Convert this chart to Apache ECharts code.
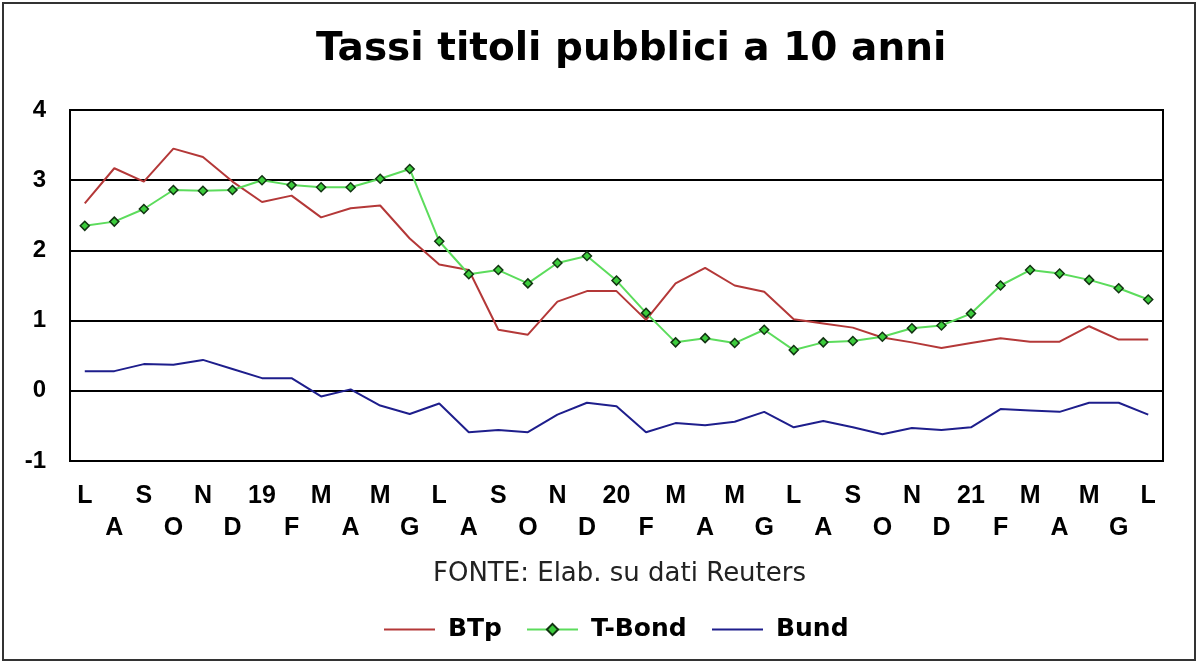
<!DOCTYPE html>
<html>
<head>
<meta charset="utf-8">
<title>Tassi titoli pubblici a 10 anni</title>
<script src="https://cdn.jsdelivr.net/npm/echarts@6/dist/echarts.min.js"></script>
<style>
  html, body { margin: 0; padding: 0; background: #fff; }
  #tassi10 { width: 1200px; height: 665px; }
</style>
</head>
<body>
<div id="tassi10"></div>
<script>
// mesi da luglio 2018 a luglio 2021
var mesi = ['L','A','S','O','N','D','19','F','M','A','M','G',
            'L','A','S','O','N','D','20','F','M','A','M','G',
            'L','A','S','O','N','D','21','F','M','A','M','G','L'];

var btp = [2.67, 3.17, 2.98, 3.45, 3.33, 2.98, 2.69, 2.78, 2.47, 2.60, 2.64, 2.17,
           1.80, 1.72, 0.87, 0.80, 1.27, 1.42, 1.42, 1.01, 1.53, 1.75, 1.50, 1.41,
           1.02, 0.96, 0.90, 0.76, 0.69, 0.61, 0.68, 0.75, 0.70, 0.70, 0.92, 0.73, 0.73];

var tbond = [2.35, 2.41, 2.59, 2.86, 2.85, 2.86, 3.00, 2.93, 2.90, 2.90, 3.02, 3.16,
             2.13, 1.66, 1.72, 1.53, 1.82, 1.92, 1.57, 1.11, 0.69, 0.75, 0.68, 0.87,
             0.58, 0.69, 0.71, 0.77, 0.89, 0.93, 1.10, 1.50, 1.72, 1.67, 1.58, 1.46, 1.30];

var bund = [0.28, 0.28, 0.38, 0.37, 0.44, 0.31, 0.18, 0.18, -0.08, 0.02, -0.21, -0.33,
            -0.18, -0.59, -0.56, -0.59, -0.34, -0.17, -0.22, -0.59, -0.46, -0.49, -0.44, -0.30,
            -0.52, -0.43, -0.52, -0.62, -0.53, -0.56, -0.52, -0.26, -0.28, -0.30, -0.17, -0.17, -0.34];

var yTicks = [-1, 0, 1, 2, 3, 4];

var font = '"Liberation Sans", Arial, sans-serif';
var fontLargo = '"DejaVu Sans", Verdana, sans-serif';

var chart = echarts.init(document.getElementById('tassi10'));

// una legenda per voce, per poterle posizionare come nell'originale
var legenda = function (item, left, h) {
    return {
        data: [item],
        left: left,
        top: 612,
        itemWidth: 51,
        itemHeight: h,
        selectedMode: false,
        textStyle: {
            fontFamily: fontLargo,
            fontWeight: 'bold',
            fontSize: 25,
            color: '#000',
            padding: [0, 0, 0, 8]
        }
    };
};

chart.setOption({
    animation: false,
    backgroundColor: '#fff',
    title: [
        {
            text: 'Tassi titoli pubblici a 10 anni',
            left: 311,
            top: 25,
            textStyle: { fontFamily: fontLargo, fontWeight: 'bold', fontSize: 39, color: '#000' }
        },
        {
            text: 'FONTE: Elab. su dati Reuters',
            left: 428,
            top: 556,
            textStyle: { fontFamily: fontLargo, fontWeight: 'normal', fontSize: 26, color: '#222' }
        }
    ],
    graphic: [{
        type: 'rect',
        shape: { x: 3, y: 3, width: 1192, height: 657 },
        style: { fill: 'none', stroke: '#333', lineWidth: 2 },
        silent: true
    }],
    legend: [
        legenda({ name: 'BTp', icon: 'rect' }, 379, 2),
        legenda({ name: 'T-Bond' }, 521, 14),
        legenda({ name: 'Bund', icon: 'rect' }, 707, 2)
    ],
    grid: {
        left: 70,
        right: 37,
        top: 110,
        bottom: 204,
        show: true,
        borderColor: '#000',
        borderWidth: 2,
        backgroundColor: '#fff'
    },
    xAxis: {
        type: 'category',
        data: mesi,
        boundaryGap: true,
        axisLine: { show: false },
        axisTick: { show: false },
        axisLabel: {
            interval: 0,
            margin: 19,
            fontFamily: font,
            fontWeight: 'bold',
            fontSize: 25,
            lineHeight: 32,
            color: '#000',
            // etichette alternate su due righe
            formatter: function (v, i) {
                return i % 2 === 0 ? v : '\n' + v;
            }
        },
        splitLine: { show: false }
    },
    yAxis: {
        type: 'value',
        min: yTicks[0],
        max: yTicks[yTicks.length - 1],
        interval: 1,
        axisLine: { show: false },
        axisTick: { show: false },
        axisLabel: {
            margin: 24,
            fontFamily: font,
            fontWeight: 'bold',
            fontSize: 24,
            color: '#000'
        },
        splitLine: { lineStyle: { color: '#000', width: 2 } }
    },
    series: [
        {
            name: 'BTp',
            type: 'line',
            data: btp,
            symbol: 'none',
            color: '#b43838',
            lineStyle: { width: 2 }
        },
        {
            name: 'T-Bond',
            type: 'line',
            data: tbond,
            symbol: 'diamond',
            symbolSize: 9,
            color: '#5cdc5c',
            lineStyle: { width: 2, color: '#5cdc5c' },
            itemStyle: { color: '#3ccc3c', borderColor: '#123312', borderWidth: 1.5 }
        },
        {
            name: 'Bund',
            type: 'line',
            data: bund,
            symbol: 'none',
            color: '#1e1e8c',
            lineStyle: { width: 2 }
        }
    ]
});
</script>
</body>
</html>
